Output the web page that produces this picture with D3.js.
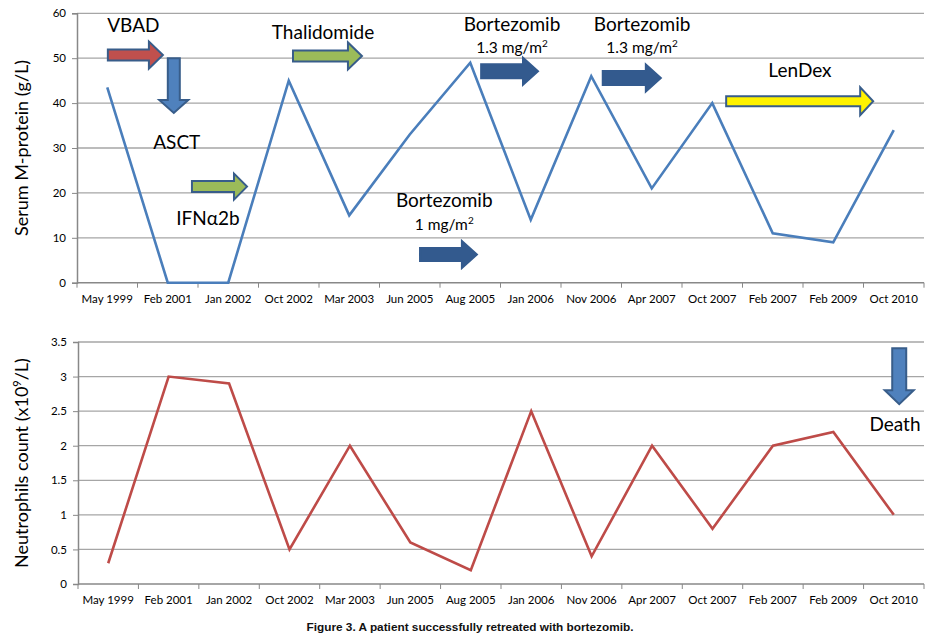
<!DOCTYPE html>
<html>
<head>
<meta charset="utf-8">
<script src="https://cdn.jsdelivr.net/npm/d3@7"></script>
<style>
  body { margin: 0; background: #fff; }
  svg text { font-family: Lato, "Open Sans", sans-serif; fill: #000; }
</style>
</head>
<body>
<div id="chart"></div>
<script>
// data
const dates = ["May 1999", "Feb 2001", "Jan 2002", "Oct 2002", "Mar 2003", "Jun 2005", "Aug 2005",
  "Jan 2006", "Nov 2006", "Apr 2007", "Oct 2007", "Feb 2007", "Feb 2009", "Oct 2010"];
const mProtein = [43.5, 0, 0, 45, 15, 33, 49, 14, 46, 21, 40, 11, 9, 34];
const neutrophils = [0.3, 3, 2.9, 0.5, 2, 0.6, 0.2, 2.5, 0.4, 2, 0.8, 2, 2.2, 1];
const mTicks = [0, 10, 20, 30, 40, 50, 60];
const nTicks = [0, 0.5, 1, 1.5, 2, 2.5, 3, 3.5];

// treatment annotations, in (category position, value) units
const treatments = [
  { label: "VBAD", x: 0.5, y: 55.8, anchor: "start" },
  { label: "ASCT", x: 1.26, y: 29.8, anchor: "start" },
  { label: "IFNα2b", x: 1.64, y: 12.9, anchor: "start" },
  { label: "Thalidomide", x: 3.22, y: 54.2, anchor: "start" },
  { label: "Bortezomib", x: 7.19, y: 56, anchor: "middle", dose: "1.3 mg/m", dy: 51.1 },
  { label: "Bortezomib", x: 9.34, y: 56, anchor: "middle", dose: "1.3 mg/m", dy: 51.1 },
  { label: "Bortezomib", x: 6.07, y: 16.9, anchor: "middle", dose: "1 mg/m", dy: 11.8 },
  { label: "LenDex", x: 11.95, y: 45.8, anchor: "middle" }
];
const arrows = [
  { dir: "right", x0: 0.51, x1: 1.42, y: 50.7, fill: "#C0504D", stroke: "#385D8A", bw: 11, hw: 27, hl: 14 },
  { dir: "down", x: 1.6, y0: 50, y1: 37.8, fill: "#4F81BD", stroke: "#385D8A", bw: 12, hw: 29, hl: 13 },
  { dir: "right", x0: 1.9, x1: 2.81, y: 21.4, fill: "#9BBB59", stroke: "#385D8A", bw: 11, hw: 26, hl: 13 },
  { dir: "right", x0: 3.57, x1: 4.71, y: 50.5, fill: "#9BBB59", stroke: "#385D8A", bw: 11, hw: 27, hl: 14 },
  { dir: "right", x0: 6.68, x1: 7.62, y: 47.1, fill: "#335A8E", stroke: "#335A8E", bw: 14, hw: 27, hl: 15 },
  { dir: "right", x0: 8.69, x1: 9.65, y: 45.6, fill: "#335A8E", stroke: "#335A8E", bw: 14, hw: 27, hl: 15 },
  { dir: "right", x0: 5.67, x1: 6.61, y: 6.3, fill: "#335A8E", stroke: "#335A8E", bw: 13, hw: 27, hl: 15 },
  { dir: "right", x0: 10.73, x1: 13.16, y: 40.4, fill: "#FFF200", stroke: "#385D8A", bw: 10, hw: 28, hl: 13 }
];
const deathArrow = { dir: "down", x: 13.59, y0: 3.41, y1: 2.6, fill: "#4F81BD", stroke: "#385D8A", bw: 14, hw: 29, hl: 14 };
const deathLabel = { label: "Death", x: 13.52, y: 2.21 };

const W = 941, H = 639;
const svg = d3.select("#chart").append("svg").attr("width", W).attr("height", H);

function arrowPath(a, xs, ys) {
  if (a.dir === "right") {
    const x0 = xs(a.x0), x1 = xs(a.x1), cy = ys(a.y), hx = x1 - a.hl;
    return [[x0, cy - a.bw / 2], [hx, cy - a.bw / 2], [hx, cy - a.hw / 2], [x1, cy],
      [hx, cy + a.hw / 2], [hx, cy + a.bw / 2], [x0, cy + a.bw / 2]];
  }
  const cx = xs(a.x), y0 = ys(a.y0), y1 = ys(a.y1), hy = y1 - a.hl;
  return [[cx - a.bw / 2, y0], [cx + a.bw / 2, y0], [cx + a.bw / 2, hy], [cx + a.hw / 2, hy],
    [cx, y1], [cx - a.hw / 2, hy], [cx - a.bw / 2, hy]];
}

function panel(cfg) {
  const g = svg.append("g").attr("transform", `translate(${cfg.left},${cfg.top})`);
  const x = d3.scaleBand().domain(dates).range([0, cfg.width]);
  const xp = d3.scaleLinear().domain([0, dates.length]).range([0, cfg.width]);
  const y = d3.scaleLinear().domain(cfg.domain).range([cfg.height, 0]);

  // gridlines
  g.append("g").selectAll("line").data(cfg.ticks.slice(1)).join("line")
    .attr("x1", 0).attr("x2", cfg.width)
    .attr("y1", d => y(d)).attr("y2", d => y(d))
    .attr("stroke", "#A6A6A6").attr("stroke-width", 1.3);

  // y axis
  const ya = g.append("g").call(d3.axisLeft(y).tickValues(cfg.ticks).tickSize(5).tickPadding(6).tickFormat(d3.format("")));
  ya.select(".domain").attr("stroke", "#888").attr("stroke-width", 1.5);
  ya.selectAll(".tick line").attr("stroke", "#888");
  ya.selectAll("text").attr("font-size", 11.5).style("font-family", "Lato, sans-serif");

  // x axis: ticks at category boundaries
  const xa = g.append("g").attr("transform", `translate(0,${cfg.height})`);
  xa.append("line").attr("x1", 0).attr("x2", cfg.width).attr("stroke", "#888").attr("stroke-width", 1.5);
  xa.selectAll(".bt").data(d3.range(dates.length + 1)).join("line").attr("class", "bt")
    .attr("x1", d => xp(d)).attr("x2", d => xp(d)).attr("y1", 0).attr("y2", 5)
    .attr("stroke", "#888");
  xa.selectAll("text").data(dates).join("text")
    .attr("x", d => x(d) + x.bandwidth() / 2).attr("y", 20)
    .attr("text-anchor", "middle").attr("font-size", 11.5).text(d => d);

  // series line
  g.append("path").datum(cfg.values)
    .attr("fill", "none").attr("stroke", cfg.color).attr("stroke-width", 2.6)
    .attr("stroke-linejoin", "miter")
    .attr("d", d3.line().x((d, i) => x(dates[i]) + x.bandwidth() / 2).y(d => y(d)));

  // y title
  const t = svg.append("text")
    .attr("transform", `translate(${cfg.titleX},${cfg.top + cfg.height / 2}) rotate(-90)`)
    .attr("text-anchor", "middle").attr("font-size", 18);
  cfg.title(t);

  return { g, xp, y };
}

const topPanel = panel({
  left: 77, top: 13.3, width: 847, height: 269.4, domain: [0, 60], ticks: mTicks,
  values: mProtein, color: "#4A7EBB", titleX: 28,
  title: t => t.text("Serum M-protein (g/L)")
});

const bottomPanel = panel({
  left: 78, top: 342, width: 846, height: 242, domain: [0, 3.5], ticks: nTicks,
  values: neutrophils, color: "#BE4B48", titleX: 28,
  title: t => {
    t.append("tspan").text("Neutrophils count (x10");
    t.append("tspan").attr("font-size", 11).attr("dy", -7).text("9");
    t.append("tspan").attr("dy", 7).text("/L)");
  }
});

// treatment arrows
topPanel.g.selectAll(".arrow").data(arrows).join("polygon").attr("class", "arrow")
  .attr("points", d => arrowPath(d, topPanel.xp, topPanel.y).join(" "))
  .attr("fill", d => d.fill).attr("stroke", d => d.stroke).attr("stroke-width", 2)
  .attr("stroke-linejoin", "miter");

// treatment labels
const lab = topPanel.g.selectAll(".lab").data(treatments).join("g").attr("class", "lab");
lab.append("text")
  .attr("x", d => topPanel.xp(d.x)).attr("y", d => topPanel.y(d.y))
  .attr("text-anchor", d => d.anchor).attr("font-size", 19).text(d => d.label);
const dose = lab.filter(d => d.dose).append("text")
  .attr("x", d => topPanel.xp(d.x)).attr("y", d => topPanel.y(d.dy))
  .attr("text-anchor", "middle").attr("font-size", 15.5);
dose.append("tspan").text(d => d.dose);
dose.append("tspan").attr("font-size", 10).attr("dy", -6).text("2");

// death marker
bottomPanel.g.append("polygon")
  .attr("points", arrowPath(deathArrow, bottomPanel.xp, bottomPanel.y).join(" "))
  .attr("fill", deathArrow.fill).attr("stroke", deathArrow.stroke).attr("stroke-width", 2);
bottomPanel.g.append("text")
  .attr("x", bottomPanel.xp(deathLabel.x)).attr("y", bottomPanel.y(deathLabel.y))
  .attr("text-anchor", "middle").attr("font-size", 19).text(deathLabel.label);

// caption
svg.append("text").attr("x", 470).attr("y", 631).attr("text-anchor", "middle")
  .style("font-family", "'Liberation Sans', Arial, sans-serif").attr("font-weight", "bold")
  .attr("font-size", 11.8).style("fill", "#111")
  .text("Figure 3. A patient successfully retreated with bortezomib.");
</script>
</body>
</html>
